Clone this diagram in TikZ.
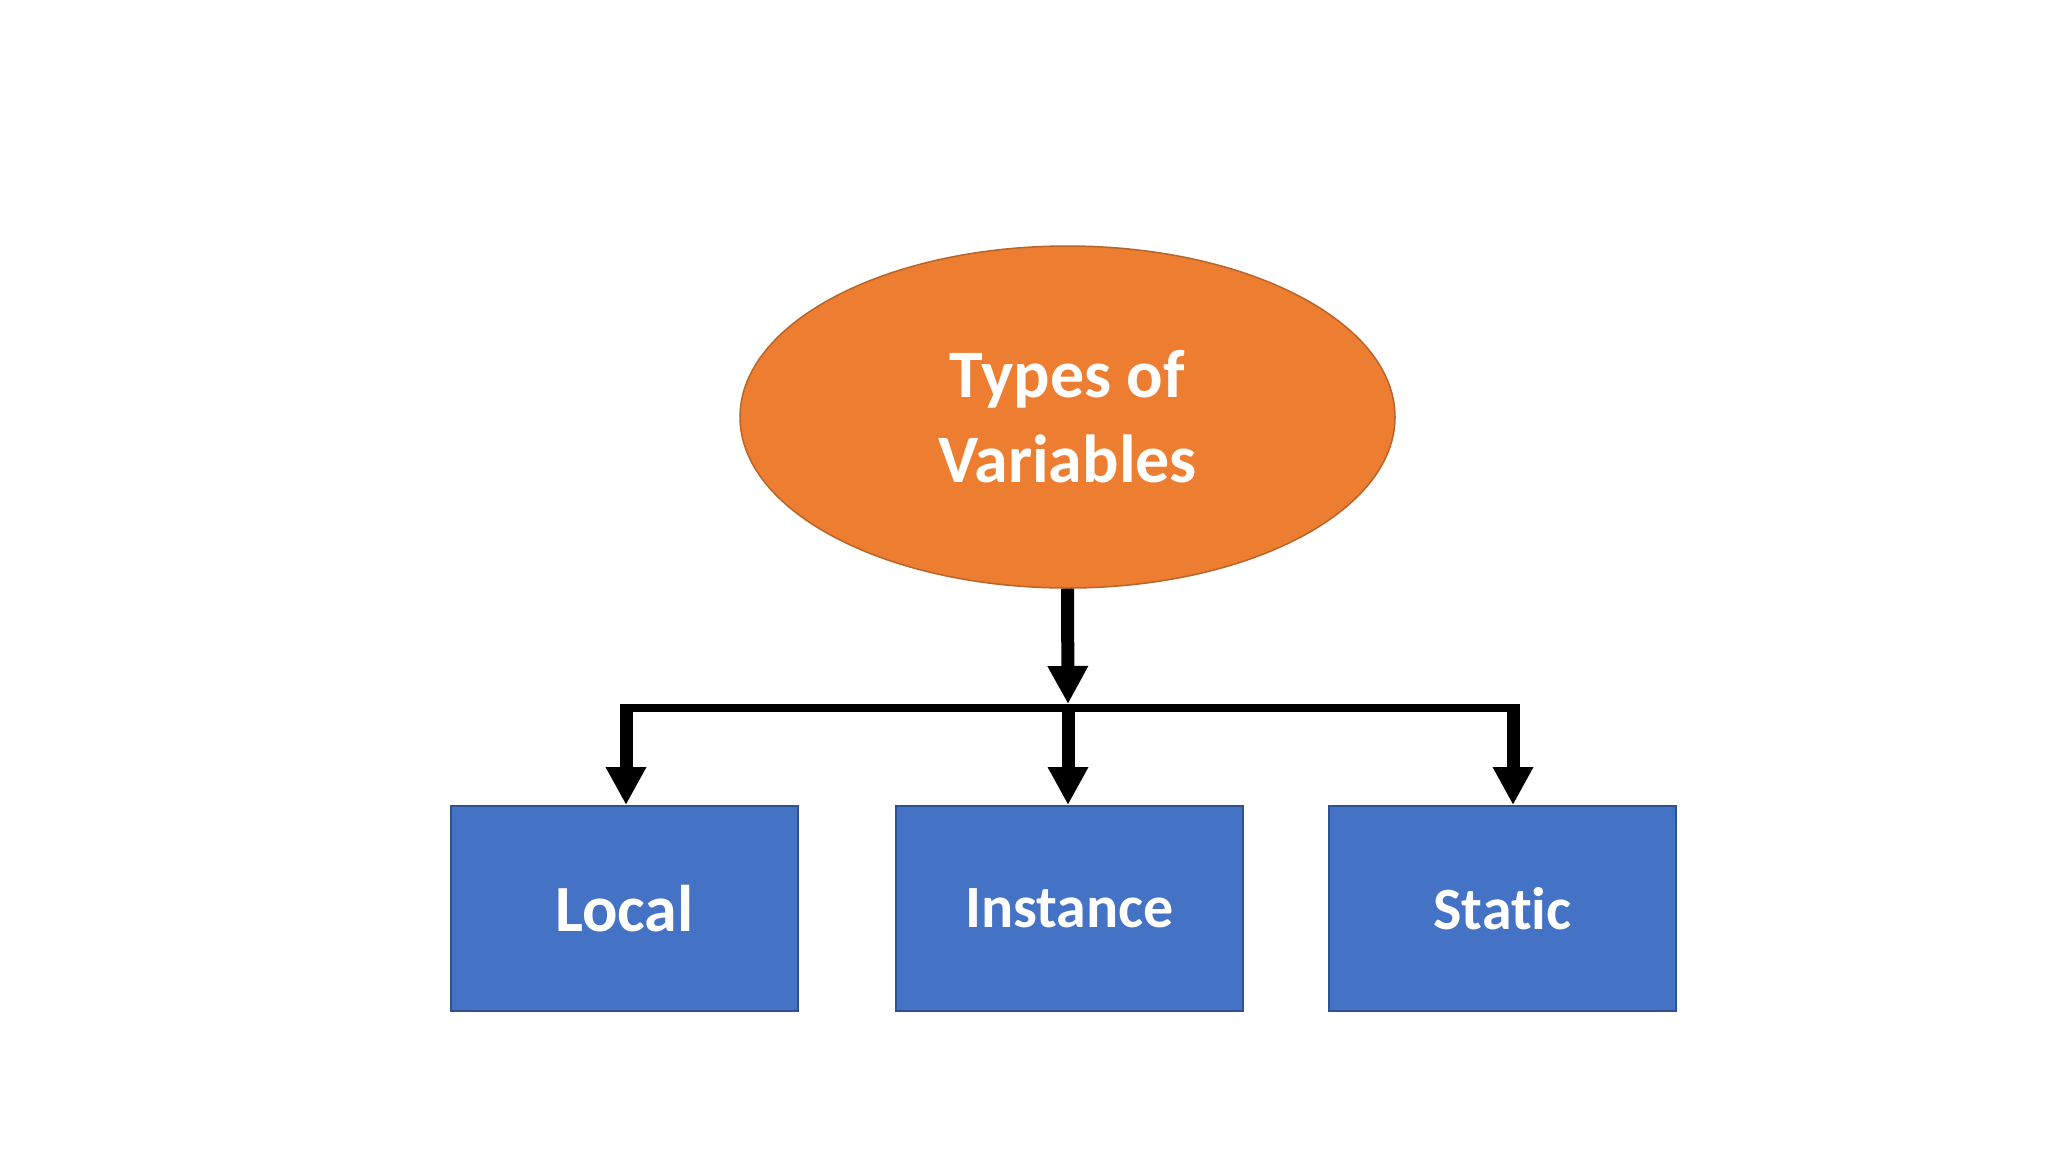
\documentclass[tikz,border=0pt]{standalone}
\usepackage{fontspec}
\setmainfont{Carlito}[Ligatures=NoCommon]
\usepackage{tikz}
\usepackage{xcolor}
\usetikzlibrary{
  positioning,
  shapes.geometric,
  arrows.meta,
  calc
}
\definecolor{orangefill}{HTML}{ED7D31}
\definecolor{orangeline}{HTML}{B8652A}
\definecolor{bluefill}{HTML}{4472C4}
\definecolor{blueline}{HTML}{2F528F}

\begin{document}
\begin{tikzpicture}[
  x=0.5pt, y=-0.5pt,
  title/.style={draw=orangeline, line width=0.75pt, ellipse, fill=orangefill, align=center, text=white, inner sep=0pt, minimum width=327.5pt, minimum height=171pt, font=\fontsize{34pt}{42.5pt}\selectfont\bfseries},
  box/.style={draw=blueline, line width=1pt, rectangle, fill=bluefill, text=white, align=center, minimum width=173.5pt, minimum height=102.5pt, font=\fontsize{30pt}{36pt}\selectfont\bfseries},
  stem/.style={draw=black, -{Triangle[length=19pt, width=19pt]}, line width=6.5pt},
  bar/.style={draw=black, line width=4pt}
]

% Canvas
\fill[white] (0,0) rectangle (2048,1152);
\useasboundingbox (0,0) rectangle (2048,1152);

% Top
\node[title] (vars) at (1067.5,417) {Types of\\Variables};

% Boxes
\node[box, font=\fontsize{33pt}{40pt}\selectfont\bfseries] (local) at (624.5,908.5) {Local};
\node[box, right=48pt of local] (instance) {Instance};
\node[box, right=42pt of instance] (static) {Static};

% Junction points
\coordinate (jc) at (1068,704);
\coordinate (bl) at (626,707.5);
\coordinate (br) at (1513,707.5);

% Bar
\draw[bar] ($(bl)+(-6.5,0)$) -- ($(br)+(6.5,0)$);

% Arrows
\draw[stem] (vars.south) -- (jc);
\draw[stem] ($(bl)+(0,-4)$) -- (bl |- local.north);
\draw[stem] (jc) -- (jc |- instance.north);
\draw[stem] ($(br)+(0,-4)$) -- (br |- static.north);

\end{tikzpicture}
\end{document}
